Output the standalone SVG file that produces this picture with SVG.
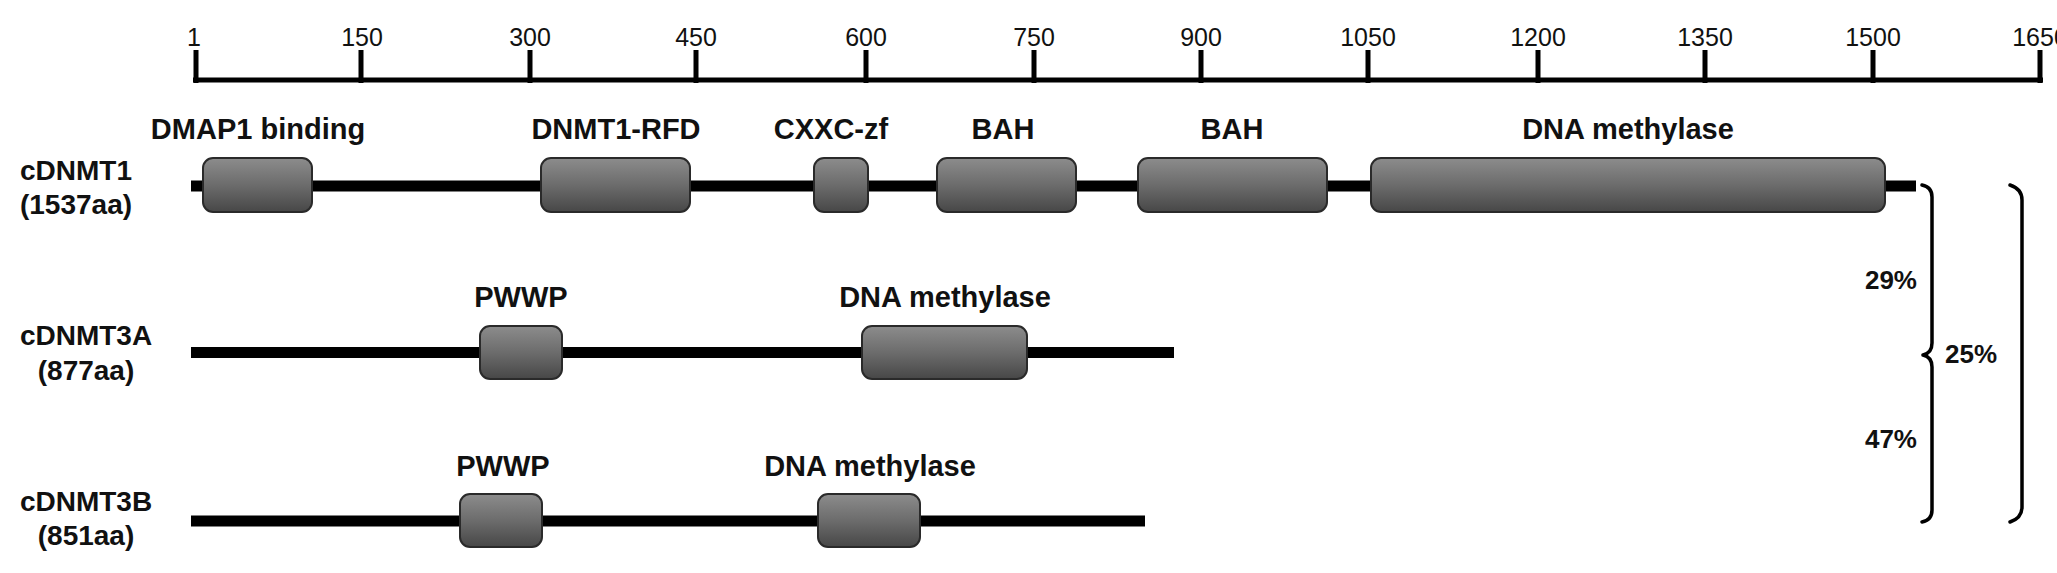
<svg xmlns="http://www.w3.org/2000/svg" width="2057" height="573" viewBox="0 0 2057 573">
<style>
.tick{font-family:"Liberation Sans",Arial,sans-serif;font-size:25px;fill:#111;text-anchor:middle}
.dom{font-family:"Liberation Sans",Arial,sans-serif;font-size:29px;font-weight:bold;fill:#111;text-anchor:middle}
.name{font-family:"Liberation Sans",Arial,sans-serif;font-size:28px;font-weight:bold;fill:#111;text-anchor:middle}
.pct{font-family:"Liberation Sans",Arial,sans-serif;font-size:26px;font-weight:bold;fill:#111}
.box{fill:url(#g);stroke:#2a2a2a;stroke-width:2}
.bb{fill:none;stroke:#000;stroke-width:11}
.ax{stroke:#000;stroke-width:5;fill:none}
.br{fill:none;stroke:#000;stroke-width:3.5;stroke-linecap:round;stroke-linejoin:round}
</style>
<defs>
<linearGradient id="g" x1="0" y1="0" x2="0" y2="1">
<stop offset="0" stop-color="#8c8c8c"/>
<stop offset="0.5" stop-color="#6c6c6c"/>
<stop offset="1" stop-color="#474747"/>
</linearGradient>
</defs>
<rect width="2057" height="573" fill="#fff"/>
<g id="axis">
<path class="ax" d="M193 80H2043"/>
<path class="ax" d="M196 50V83M361 50V83M530 50V83M696 50V83M866 50V83M1034 50V83M1201 50V83M1368 50V83M1538 50V83M1705 50V83M1873 50V83M2040 50V83"/>
<text class="tick" x="194" y="46">1</text>
<text class="tick" x="362" y="46">150</text>
<text class="tick" x="530" y="46">300</text>
<text class="tick" x="696" y="46">450</text>
<text class="tick" x="866" y="46">600</text>
<text class="tick" x="1034" y="46">750</text>
<text class="tick" x="1201" y="46">900</text>
<text class="tick" x="1368" y="46">1050</text>
<text class="tick" x="1538" y="46">1200</text>
<text class="tick" x="1705" y="46">1350</text>
<text class="tick" x="1873" y="46">1500</text>
<text class="tick" x="2040" y="46">1650</text>
</g>
<g id="connectors">
<path class="bb" d="M191 186H1916"/>
<path class="bb" d="M191 352.5H1174"/>
<path class="bb" d="M191 521H1145"/>
</g>
<g id="cDNMT1">
<text class="name" x="76" y="180">cDNMT1</text>
<text class="name" x="76" y="214">(1537aa)</text>
</g>
<g id="cDNMT1-DMAP1"><rect class="box" x="203" y="158" width="109" height="54" rx="10"/><text class="dom" x="258" y="139">DMAP1 binding</text></g>
<g id="cDNMT1-RFD"><rect class="box" x="541" y="158" width="149" height="54" rx="10"/><text class="dom" x="616" y="139">DNMT1-RFD</text></g>
<g id="cDNMT1-CXXC"><rect class="box" x="814" y="158" width="54" height="54" rx="10"/><text class="dom" x="831" y="139">CXXC-zf</text></g>
<g id="cDNMT1-BAH1"><rect class="box" x="937" y="158" width="139" height="54" rx="10"/><text class="dom" x="1003" y="139">BAH</text></g>
<g id="cDNMT1-BAH2"><rect class="box" x="1138" y="158" width="189" height="54" rx="10"/><text class="dom" x="1232" y="139">BAH</text></g>
<g id="cDNMT1-DNAm"><rect class="box" x="1371" y="158" width="514" height="54" rx="10"/><text class="dom" x="1628" y="139">DNA methylase</text></g>
<g id="cDNMT3A">
<text class="name" x="86" y="345">cDNMT3A</text>
<text class="name" x="86" y="380">(877aa)</text>
</g>
<g id="cDNMT3A-PWWP"><rect class="box" x="480" y="326" width="82" height="53" rx="10"/><text class="dom" x="521" y="307">PWWP</text></g>
<g id="cDNMT3A-DNAm"><rect class="box" x="862" y="326" width="165" height="53" rx="10"/><text class="dom" x="945" y="307">DNA methylase</text></g>
<g id="cDNMT3B">
<text class="name" x="86" y="511">cDNMT3B</text>
<text class="name" x="86" y="545">(851aa)</text>
</g>
<g id="cDNMT3B-PWWP"><rect class="box" x="460" y="494" width="82" height="53" rx="10"/><text class="dom" x="503" y="476">PWWP</text></g>
<g id="cDNMT3B-DNAm"><rect class="box" x="818" y="494" width="102" height="53" rx="10"/><text class="dom" x="870" y="476">DNA methylase</text></g>
<g id="identity">
<path class="br" d="M1922 185Q1932 187 1932 197V343Q1932 353 1923 355Q1932 357 1932 367V510Q1932 520 1922 522"/>
<path class="br" d="M2010 185Q2022 189 2022 200V507Q2022 518 2010 522"/>
<text class="pct" x="1917" y="289" text-anchor="end">29%</text>
<text class="pct" x="1917" y="448" text-anchor="end">47%</text>
<text class="pct" x="1945" y="363">25%</text>
</g>
</svg>
